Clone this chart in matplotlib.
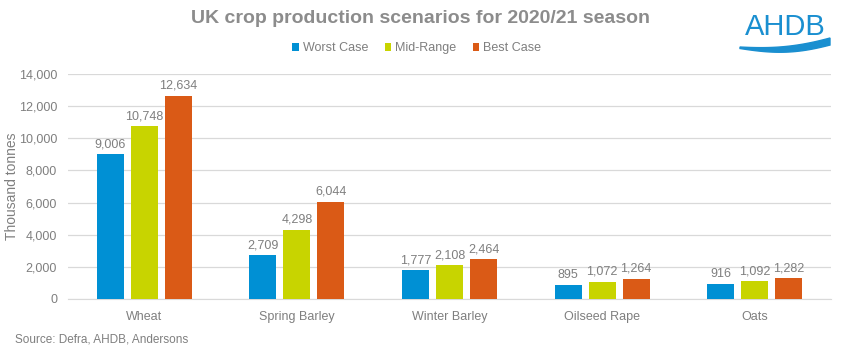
import numpy as np
import matplotlib.pyplot as plt
from matplotlib.patches import Polygon

crops = ["Wheat", "Spring Barley", "Winter Barley", "Oilseed Rape", "Oats"]
worst_case = [9006, 2709, 1777, 895, 916]
mid_range = [10748, 4298, 2108, 1072, 1092]
best_case = [12634, 6044, 2464, 1264, 1282]
series_names = ["Worst Case", "Mid-Range", "Best Case"]
colours = ["#0090D4", "#C8D400", "#DA5A16"]

plt.rcParams['font.family'] = ['Liberation Sans', 'DejaVu Sans']
grey = "#7F7F7F"
logo_blue = "#1A8FD0"

fig = plt.figure(figsize=(8.41, 3.49), dpi=100)
ax = fig.add_axes([0.081, 0.1433, 0.907, 0.645])

x = np.arange(len(crops))
width = 0.177
pitch = 0.223
for i, (vals, name, col) in enumerate(zip([worst_case, mid_range, best_case], series_names, colours)):
    bars = ax.bar(x + (i - 1) * pitch, vals, width=width, color=col, label=name, zorder=3)
    for b, v in zip(bars, vals):
        ax.text(b.get_x() + b.get_width() / 2, v + 250, f"{v:,}", ha='center', va='bottom',
                fontsize=9, color=grey)

ax.set_xlim(-0.5, len(crops) - 0.5)
ax.set_ylim(0, 14000)
ax.set_yticks(np.arange(0, 14001, 2000))
ax.set_yticklabels([f"{t:,}" for t in range(0, 14001, 2000)])
ax.set_xticks(x)
ax.set_xticklabels(crops)
ax.grid(axis='y', color='#D9D9D9', linewidth=0.9, zorder=0)
for s in ['top', 'right', 'left']:
    ax.spines[s].set_visible(False)
ax.spines['bottom'].set_color('#D9D9D9')
ax.tick_params(axis='both', length=0, labelsize=9, colors=grey)
ax.tick_params(axis='y', pad=8)
ax.tick_params(axis='x', pad=9)
ax.set_ylabel("Thousand tonnes", fontsize=10, color=grey)
ax.yaxis.set_label_coords(-0.064, 0.5)

fig.text(0.5, 0.948, "UK crop production scenarios for 2020/21 season", ha='center', va='center',
         fontsize=14, fontweight='bold', color='#8C8C8C',
         family=['Liberation Sans Narrow', 'Liberation Sans'])
ax.legend(loc='center', bbox_to_anchor=(0.457, 1.113), ncol=3, frameon=False, fontsize=9,
          handlelength=0.55, handleheight=0.55, handletextpad=0.3, columnspacing=1.3,
          labelcolor=grey)

fig.text(0.018, 0.028, "Source: Defra, AHDB, Andersons", ha='left', va='center',
         fontsize=8.5, color=grey)

# AHDB logo: lettering plus a swoosh underneath
fig.text(0.9335, 0.924, "AHDB", ha='center', va='center', fontsize=21, color=logo_blue)
px = np.linspace(740, 830, 40)
t = (px - 740) / 90
top_y = 47 + 1.5 * np.sin(t * np.pi) - 9 * t ** 2.2
bot_y = 48.5 + 5 * np.sin(t * np.pi * 0.9) - 5 * t ** 2
pts = np.column_stack([np.r_[px, px[::-1]], np.r_[top_y, bot_y[::-1]]])
pts[:, 0] /= 841
pts[:, 1] = 1 - pts[:, 1] / 349
fig.patches.append(Polygon(pts, closed=True, transform=fig.transFigure, color=logo_blue))

fig.savefig("out.png", dpi=100)
